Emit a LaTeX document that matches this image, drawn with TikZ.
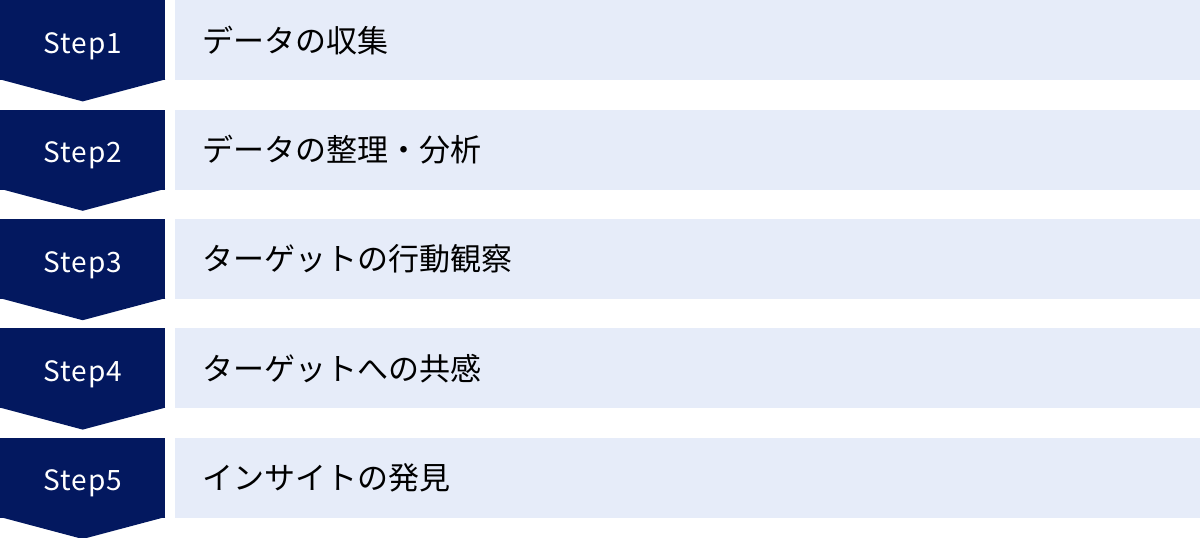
\documentclass[tikz,border=0pt]{standalone}
\usepackage{fontspec}
\setmainfont{Noto Sans CJK JP}
\newfontfamily\stepfont[LetterSpace=4]{Noto Sans CJK JP}
\usepackage{tikz}
\usetikzlibrary{positioning}
\definecolor{stepnavy}{HTML}{03185F}
\definecolor{barblue}{HTML}{E6ECF9}

\begin{document}
\begin{tikzpicture}[node distance=29pt and 9pt,
			step node/.style={rectangle,fill=stepnavy,text=white,
				minimum width=165pt,minimum height=80pt,inner sep=0pt,
				text height=26pt,text depth=0pt,
				font=\stepfont\fontsize{28pt}{32pt}\selectfont},
			bar node/.style={rectangle,fill=barblue,text=black,
				minimum width=1026pt,minimum height=80pt,text width=998pt,
				inner xsep=28pt,inner ysep=0pt,align=left,
				font=\fontsize{31pt}{36pt}\selectfont}]
			
			\useasboundingbox (0,0) rectangle (1200pt,-538pt);
			
			\node[step node,anchor=north west] (S1) at (0,0) {Step1};
			\node[step node] (S2) [below=of S1] {Step2};
			\node[step node] (S3) [below=of S2] {Step3};
			\node[step node] (S4) [below=of S3] {Step4};
			\node[step node] (S5) [below=of S4] {Step5};
			
			\node[bar node] (B1) [right=of S1] {データの収集};
			\node[bar node] (B2) [right=of S2] {データの整理・分析};
			\node[bar node] (B3) [right=of S3] {ターゲットの行動観察};
			\node[bar node] (B4) [right=of S4] {ターゲットへの共感};
			\node[bar node] (B5) [right=of S5] {インサイトの発見};
			
			% arrow tips under the steps
			\fill[stepnavy] ([yshift=1pt]S1.south west) -- ([yshift=1pt]S1.south east) -- ([yshift=-21pt]S1.south) -- cycle;
			\fill[stepnavy] ([yshift=1pt]S2.south west) -- ([yshift=1pt]S2.south east) -- ([yshift=-21pt]S2.south) -- cycle;
			\fill[stepnavy] ([yshift=1pt]S3.south west) -- ([yshift=1pt]S3.south east) -- ([yshift=-21pt]S3.south) -- cycle;
			\fill[stepnavy] ([yshift=1pt]S4.south west) -- ([yshift=1pt]S4.south east) -- ([yshift=-21pt]S4.south) -- cycle;
			\fill[stepnavy] ([yshift=1pt]S5.south west) -- ([yshift=1pt]S5.south east) -- ([yshift=-21pt]S5.south) -- cycle;
			
		\end{tikzpicture}
\end{document}
